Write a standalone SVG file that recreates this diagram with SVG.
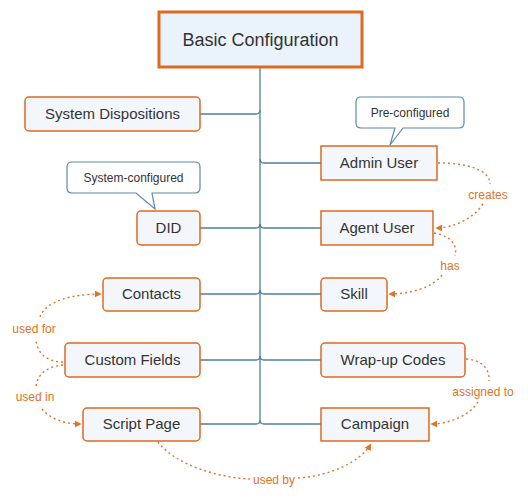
<svg xmlns="http://www.w3.org/2000/svg" width="528" height="499" viewBox="0 0 528 499">
<style>
.node{fill:#F3F7FC;stroke:#DD6A1F;stroke-width:1.5}
.main{fill:#EAF2FB;stroke:#DD6A1F;stroke-width:3}
.nt{font-family:"Liberation Sans",Arial,sans-serif;font-size:15px;fill:#333;text-anchor:middle}
.mt{font-family:"Liberation Sans",Arial,sans-serif;font-size:18px;fill:#333;text-anchor:middle}
.ct{font-family:"Liberation Sans",Arial,sans-serif;font-size:12px;fill:#333;text-anchor:middle}
.lt{font-family:"Liberation Sans",Arial,sans-serif;font-size:12px;fill:#E07328;text-anchor:middle}
.tree{fill:none;stroke:#4F7F9F;stroke-width:1.3}
.callout{fill:#fff;stroke:#5B8BAA;stroke-width:1.2}
.rel{fill:none;stroke:#E07328;stroke-width:1.4;stroke-dasharray:2,3}
</style>
<defs>
<marker id="arr" viewBox="0 0 10 10" refX="9" refY="5" markerWidth="7" markerHeight="7" markerUnits="userSpaceOnUse" orient="auto">
<path d="M0,0 L10,5 L0,10 Z" fill="#E07328"/>
</marker>
</defs>
<g id="connectors">
<path class="tree" d="M260,67 V420"/>
<path class="tree" d="M200,114 H256 Q260,114 260,110"/>
<path class="tree" d="M200,228 H256 Q260,228 260,224"/>
<path class="tree" d="M200,294 H256 Q260,294 260,290"/>
<path class="tree" d="M200,360 H256 Q260,360 260,356"/>
<path class="tree" d="M200,424 H256 Q260,424 260,420"/>
<path class="tree" d="M260,159 Q260,163 264,163 H321"/>
<path class="tree" d="M260,224 Q260,228 264,228 H321"/>
<path class="tree" d="M260,290 Q260,294 264,294 H321"/>
<path class="tree" d="M260,356 Q260,360 264,360 H321"/>
<path class="tree" d="M260,420 Q260,424 264,424 H321"/>
<path class="rel" d="M438,163 C468,163 490,170 490,184"/>
<path class="rel" d="M483,204 C472,220 452,228 436,228" marker-end="url(#arr)"/>
<path class="rel" d="M434,233 C450,236 458,244 455,256"/>
<path class="rel" d="M442,275 C432,288 410,294 389,294" marker-end="url(#arr)"/>
<path class="rel" d="M466,359 C481,360 490,368 489,381"/>
<path class="rel" d="M478,402 C470,415 450,424 431,424" marker-end="url(#arr)"/>
<path class="rel" d="M63,362 C50,362 37,356 36,339"/>
<path class="rel" d="M40,317 C45,302 70,294 101,294" marker-end="url(#arr)"/>
<path class="rel" d="M63,365 C50,366 38,372 36,386"/>
<path class="rel" d="M42,409 C50,419 65,424 81,424" marker-end="url(#arr)"/>
<path class="rel" d="M158,442 C175,465 220,478 250,479"/>
<path class="rel" d="M298,478 C330,476 360,462 371,444" marker-end="url(#arr)"/>
<text class="lt" x="488" y="199">creates</text>
<text class="lt" x="450" y="270">has</text>
<text class="lt" x="483" y="396">assigned to</text>
<text class="lt" x="34" y="333">used for</text>
<text class="lt" x="35" y="401">used in</text>
<text class="lt" x="274" y="484">used by</text>
</g>
<g id="basic-configuration">
<rect class="main" x="159" y="12" width="203" height="55"/>
<text class="mt" x="260.5" y="46">Basic Configuration</text>
</g>
<g id="system-dispositions">
<rect class="node" x="25" y="97" width="175" height="34" rx="4"/>
<text class="nt" x="112.5" y="119">System Dispositions</text>
</g>
<g id="pre-configured">
<path class="callout" d="M361,97 H459 Q464,97 464,102 V123 Q464,128 459,128 H403 L390,145 L395,128 H361 Q356,128 356,123 V102 Q356,97 361,97 Z"/>
<text class="ct" x="410" y="117">Pre-configured</text>
</g>
<g id="admin-user">
<rect class="node" x="321" y="146" width="116" height="34"/>
<text class="nt" x="379" y="168">Admin User</text>
</g>
<g id="system-configured">
<path class="callout" d="M72,162 H195 Q200,162 200,167 V188 Q200,193 195,193 H152 L155,209 L136,193 H72 Q67,193 67,188 V167 Q67,162 72,162 Z"/>
<text class="ct" x="133.5" y="182">System-configured</text>
</g>
<g id="did">
<rect class="node" x="137" y="211" width="63" height="34" rx="4"/>
<text class="nt" x="168.5" y="233">DID</text>
</g>
<g id="agent-user">
<rect class="node" x="321" y="211" width="112" height="34"/>
<text class="nt" x="377" y="233">Agent User</text>
</g>
<g id="contacts">
<rect class="node" x="103" y="278" width="97" height="33" rx="4"/>
<text class="nt" x="151.5" y="299">Contacts</text>
</g>
<g id="skill">
<rect class="node" x="321" y="278" width="66" height="33" rx="4"/>
<text class="nt" x="354" y="299">Skill</text>
</g>
<g id="custom-fields">
<rect class="node" x="65" y="343" width="135" height="34" rx="4"/>
<text class="nt" x="132.5" y="365">Custom Fields</text>
</g>
<g id="wrap-up-codes">
<rect class="node" x="321" y="343" width="144" height="34" rx="4"/>
<text class="nt" x="393" y="365">Wrap-up Codes</text>
</g>
<g id="script-page">
<rect class="node" x="83" y="408" width="117" height="33" rx="4"/>
<text class="nt" x="141.5" y="429">Script Page</text>
</g>
<g id="campaign">
<rect class="node" x="321" y="408" width="108" height="33"/>
<text class="nt" x="375" y="429">Campaign</text>
</g>
</svg>
